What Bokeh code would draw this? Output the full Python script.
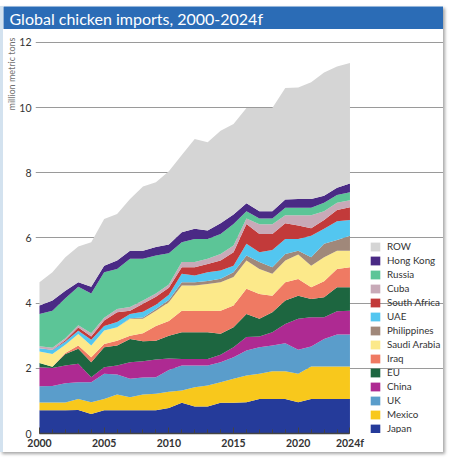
from bokeh.plotting import figure
from bokeh.models import ColumnDataSource, FixedTicker, Legend, LegendItem, Label, Title
from bokeh.layouts import column
from bokeh.embed import file_html
from bokeh.resources import INLINE
from bokeh.core.properties import value

years = list(range(2000, 2025))
year_labels = {2024: "2024f"}

# million metric tons (bottom to top of the stack)
japan = [0.71, 0.71, 0.71, 0.72, 0.60, 0.71, 0.71, 0.71, 0.71, 0.71, 0.78, 0.94, 0.83,
         0.83, 0.94, 0.94, 0.96, 1.06, 1.06, 1.06, 0.96, 1.06, 1.06, 1.06, 1.06]
mexico = [0.24, 0.24, 0.24, 0.34, 0.36, 0.35, 0.49, 0.40, 0.49, 0.51, 0.50, 0.38, 0.59,
          0.64, 0.63, 0.74, 0.82, 0.77, 0.85, 0.85, 0.87, 1.00, 1.00, 1.00, 1.00]
uk = [0.50, 0.51, 0.59, 0.51, 0.61, 0.77, 0.61, 0.57, 0.52, 0.51, 0.67, 0.77, 0.67,
      0.62, 0.62, 0.66, 0.77, 0.82, 0.79, 0.86, 0.74, 0.61, 0.84, 0.98, 0.98]
china = [0.58, 0.55, 0.55, 0.57, 0.16, 0.20, 0.28, 0.51, 0.50, 0.54, 0.35, 0.20, 0.20,
         0.20, 0.23, 0.31, 0.41, 0.33, 0.41, 0.59, 0.95, 0.90, 0.67, 0.71, 0.73]
eu = [0.13, 0.04, 0.35, 0.46, 0.46, 0.62, 0.61, 0.71, 0.61, 0.58, 0.70, 0.82, 0.82,
      0.82, 0.64, 0.61, 0.71, 0.54, 0.61, 0.72, 0.71, 0.56, 0.61, 0.74, 0.72]
iraq = [0.00, 0.00, 0.03, 0.10, 0.15, 0.10, 0.15, 0.10, 0.25, 0.45, 0.45, 0.66, 0.65,
        0.65, 0.71, 0.67, 0.77, 0.76, 0.51, 0.56, 0.51, 0.36, 0.49, 0.56, 0.61]
saudi_arabia = [0.36, 0.39, 0.25, 0.35, 0.36, 0.41, 0.41, 0.52, 0.44, 0.47, 0.58, 0.77, 0.78,
                0.83, 0.87, 0.87, 0.87, 0.77, 0.67, 0.67, 0.75, 0.66, 0.74, 0.56, 0.51]
philippines = [0.00, 0.00, 0.00, 0.00, 0.00, 0.00, 0.00, 0.02, 0.04, 0.05, 0.07, 0.10, 0.10,
               0.09, 0.11, 0.15, 0.15, 0.21, 0.20, 0.20, 0.12, 0.26, 0.41, 0.33, 0.46]
uae = [0.10, 0.12, 0.10, 0.10, 0.18, 0.14, 0.16, 0.13, 0.18, 0.13, 0.16, 0.26, 0.21,
       0.27, 0.25, 0.20, 0.36, 0.30, 0.53, 0.46, 0.36, 0.66, 0.46, 0.57, 0.48]
south_africa = [0.00, 0.01, 0.04, 0.10, 0.10, 0.17, 0.30, 0.10, 0.24, 0.25, 0.21, 0.20, 0.25,
                0.25, 0.31, 0.41, 0.61, 0.56, 0.49, 0.48, 0.41, 0.23, 0.27, 0.35, 0.39]
cuba = [0.06, 0.06, 0.06, 0.07, 0.10, 0.08, 0.10, 0.11, 0.10, 0.10, 0.10, 0.16, 0.16,
        0.16, 0.20, 0.21, 0.17, 0.30, 0.30, 0.25, 0.32, 0.40, 0.27, 0.22, 0.22]
russia = [0.99, 1.14, 1.23, 1.18, 1.22, 1.40, 1.23, 1.48, 1.28, 1.16, 0.96, 0.61, 0.71,
          0.61, 0.61, 0.66, 0.22, 0.18, 0.18, 0.23, 0.23, 0.23, 0.26, 0.24, 0.24]
hong_kong = [0.26, 0.31, 0.23, 0.14, 0.20, 0.20, 0.26, 0.25, 0.25, 0.26, 0.27, 0.31, 0.31,
             0.26, 0.33, 0.29, 0.25, 0.22, 0.22, 0.25, 0.27, 0.27, 0.22, 0.22, 0.27]
row = [0.71, 0.87, 1.03, 1.10, 1.37, 1.43, 1.43, 1.59, 1.97, 1.99, 2.25, 2.37, 2.76,
       2.71, 2.84, 2.78, 2.92, 3.17, 3.17, 3.42, 3.42, 3.58, 3.78, 3.72, 3.70]

series_names = ["Japan", "Mexico", "UK", "China", "EU", "Iraq", "Saudi Arabia",
                "Philippines", "UAE", "South Africa", "Cuba", "Russia", "Hong Kong", "ROW"]
series_values = [japan, mexico, uk, china, eu, iraq, saudi_arabia, philippines, uae,
                 south_africa, cuba, russia, hong_kong, row]
colors = ["#253b9a", "#f8c81c", "#5a9dcb", "#ae2a92", "#1d6640", "#ef7a63", "#fce98a",
          "#a0887a", "#53c6f0", "#c23a3a", "#c8aab8", "#5cc597", "#4a2a85", "#d5d5d5"]

TEXT_FONT = "Lato"

data = {"year": years}
for n, v in zip(series_names, series_values):
    data[n] = v
source = ColumnDataSource(data)

# ---- title bar ----
t = figure(width=440, height=23, x_range=(0, 440), y_range=(0, 23),
           output_backend="svg", toolbar_location=None, min_border=0,
           x_axis_location=None, y_axis_location=None)
t.frame_align = False
t.grid.visible = False
t.outline_line_color = None
t.background_fill_color = "#2b6cb6"
t.border_fill_color = "#2b6cb6"
t.add_layout(Label(x=6, y=11, text="Global chicken imports, 2000-2024f",
                   text_color="white", text_font=TEXT_FONT, text_font_size="16px",
                   text_baseline="middle", text_align="left"))

# ---- main chart ----
# frame spans from the left gridline start to the panel's right edge (legend lives inside)
X0 = 2000 - 4 / 13
X1 = 2024 + 94 / 13
p = figure(width=440, height=423, x_range=(X0, X1), y_range=(0, 12.153),
           output_backend="svg", toolbar_location=None,
           min_border_left=30, min_border_right=0, min_border_top=8, min_border_bottom=19)
p.frame_align = False
p.outline_line_color = None
p.background_fill_color = "white"
p.border_fill_color = "white"

renderers = p.varea_stack(stackers=series_names, x="year", color=colors, source=source)

# axes
p.xaxis.ticker = FixedTicker(ticks=[2000, 2005, 2010, 2015, 2020, 2024],
                             minor_ticks=years)
p.xaxis.major_label_overrides = year_labels
p.xaxis.bounds = (2000, 2024)
p.xaxis.axis_line_color = "#444444"
p.xaxis.axis_line_width = 1.3
p.xaxis.major_tick_in = 6
p.xaxis.major_tick_out = 0
p.xaxis.minor_tick_in = 4
p.xaxis.minor_tick_out = 0
p.xaxis.major_tick_line_color = "#444444"
p.xaxis.minor_tick_line_color = "#444444"
p.xaxis.major_label_text_font = TEXT_FONT
p.xaxis.major_label_text_font_size = "10.5px"
p.xaxis.major_label_text_font_style = "bold"
p.xaxis.major_label_text_color = "#333333"
p.xaxis.major_label_standoff = 3

p.yaxis.ticker = FixedTicker(ticks=[0, 2, 4, 6, 8, 10, 12])
p.yaxis.axis_line_color = None
p.yaxis.major_tick_line_color = None
p.yaxis.minor_tick_line_color = None
p.yaxis.major_tick_in = 0
p.yaxis.major_tick_out = 0
p.yaxis.minor_tick_in = 0
p.yaxis.minor_tick_out = 0
p.yaxis.axis_label_standoff = 0
p.yaxis.major_label_text_font = TEXT_FONT
p.yaxis.major_label_text_font_size = "10.5px"
p.yaxis.major_label_text_color = "#333333"
p.yaxis.major_label_standoff = 4

p.xgrid.visible = False
p.ygrid.ticker = FixedTicker(ticks=[2, 4, 6, 8, 10, 12])
p.ygrid.bounds = (X0, 2024 + 3 / 13)
p.ygrid.grid_line_color = "#9a9a9a"
p.ygrid.grid_line_width = 1

p.add_layout(Title(text="million metric tons", align="right", text_font=TEXT_FONT,
                   text_font_size="9px", text_font_style="normal",
                   text_color="#707070", standoff=0, offset=0), "left")

items = [LegendItem(label=n, renderers=[r]) for n, r in zip(series_names, renderers)][::-1]
legend = Legend(items=items, location=(334, -1), margin=0, padding=0,
                glyph_width=12, glyph_height=11, label_height=11, spacing=2,
                label_standoff=6, border_line_color=None, background_fill_alpha=0,
                label_text_font=TEXT_FONT, label_text_font_size="9.8px",
                label_text_color="#333333")
p.add_layout(legend)

layout = column(t, p, spacing=0)
layout.styles = {"margin-left": "0px", "margin-top": "6px",
                 "border-left": "3px solid #d3e2ef",
                 "box-shadow": "2px 2px 3px rgba(0,0,0,0.35)"}

open("out.html", "w").write(file_html(layout, INLINE))
